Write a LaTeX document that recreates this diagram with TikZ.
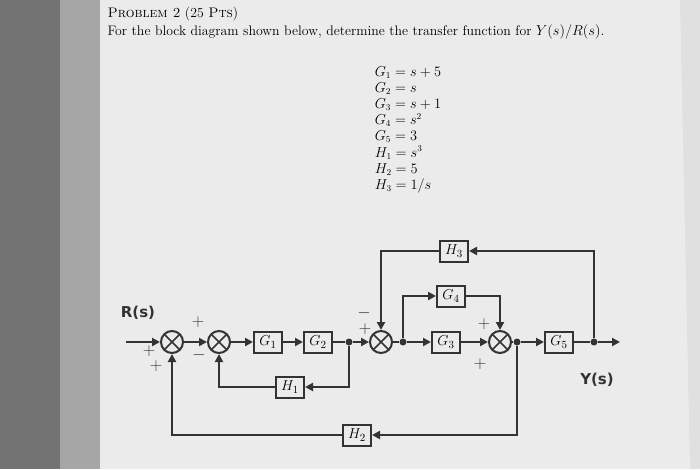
\documentclass[tikz,border=0pt]{standalone}
\usepackage{fontspec}
\setsansfont{DejaVu Sans}
\usetikzlibrary{arrows.meta}
\begin{document}
\begin{tikzpicture}[x=1pt,y=-1pt,
  blk/.style={draw=black!80,line width=2pt,fill=white!92!black,minimum width=28pt,minimum height=21pt,inner sep=1pt,font=\fontsize{15}{17}\selectfont},
  sumj/.style={draw=black!80,line width=2pt,circle,minimum size=22pt,inner sep=0pt,path picture={\draw[black!80,line width=1.6pt] (path picture bounding box.south west)--(path picture bounding box.north east) (path picture bounding box.north west)--(path picture bounding box.south east);}},
  sig/.style={draw=black!80,line width=2pt,-{Triangle[length=8pt,width=8pt]}},
  ln/.style={draw=black!80,line width=2pt},
  dot/.style={circle,fill=black!80,inner sep=0pt,minimum size=7pt},
  sg/.style={font=\fontsize{16}{16}\selectfont,text=black!80}]
\useasboundingbox (0,0) rectangle (700,469);
\fill[black!12] (0,0) rectangle (700,469);
\fill[black!55] (0,0) rectangle (60,469);
\fill[black!35] (60,0) rectangle (100,469);
\fill[black!8] (100,0) -- (680,0) -- (690,469) -- (100,469) -- cycle;
\node[anchor=west,font=\fontsize{13.8}{15}\selectfont] (t1) at (104,14) {\textsc{Problem 2} (25 \textsc{Pts})};
\node[anchor=west,font=\fontsize{13.8}{15}\selectfont] (t2) at (104,32) {For the block diagram shown below, determine the transfer function for $Y(s)/R(s)$.};
\node[anchor=north,font=\fontsize{13.5}{15}\selectfont] (eq) at (408,62) {$\begin{array}{l}
G_1=s+5\\[1pt] G_2=s\\[1pt] G_3=s+1\\[1pt] G_4=s^2\\[1pt] G_5=3\\[1pt] H_1=s^3\\[1pt] H_2=5\\[1pt] H_3=1/s\end{array}$};
% main row
\coordinate (in) at (126,342);
\node[sumj] (s1) at (172,342) {};
\node[sumj] (s2) at (219,342) {};
\node[blk] (g1) at (268,342) {$G_1$};
\node[blk] (g2) at (318,342) {$G_2$};
\node[dot] (b1) at (349,342) {};
\node[sumj] (s3) at (381,342) {};
\node[dot] (b2) at (403,342) {};
\node[blk] (g3) at (446,342) {$G_3$};
\node[blk] (g4) at (451,296) {$G_4$};
\node[sumj] (s4) at (500,342) {};
\node[dot] (b3) at (517,342) {};
\node[blk] (g5) at (559,342) {$G_5$};
\node[dot] (b4) at (594,342) {};
\coordinate (out) at (620,342);
\node[blk] (h1) at (290,387) {$H_1$};
\node[blk] (h2) at (357,435) {$H_2$};
\node[blk] (h3) at (454,251) {$H_3$};
\node[font=\sffamily\bfseries\fontsize{15}{17}\selectfont,text=black!80] (R) at (138,313) {R(s)};
\node[font=\sffamily\bfseries\fontsize{15}{17}\selectfont,text=black!80] (Y) at (597,380) {Y(s)};
\path[sig] (in)--(s1);
\path[sig] (s1)--(s2);
\path[sig] (s2)--(g1);
\path[sig] (g1)--(g2);
\path[ln] (g2)--(b1);
\path[sig] (b1)--(s3);
\path[ln] (s3)--(b2);
\path[sig] (b2)--(g3);
\path[sig] (b2)|-(g4);
\path[sig] (g4)-|(s4);
\path[sig] (g3)--(s4);
\path[ln] (s4)--(b3);
\path[sig] (b3)--(g5);
\path[ln] (g5)--(b4);
\path[sig] (b4)--(out);
\path[sig] (b1)|-(h1);
\path[sig] (h1)-|(s2);
\path[sig] (b3)|-(h2);
\path[sig] (h2)-|(s1);
\path[sig] (b4)|-(h3);
\path[sig] (h3)-|(s3);
% signs
\node[sg] (p1) at (149,351) {$+$};
\node[sg] (p2) at (156,366) {$+$};
\node[sg] (p3) at (198,322) {$+$};
\node[sg] (m1) at (199,355) {$-$};
\node[sg] (p4) at (365,329) {$+$};
\node[sg] (m2) at (364,313) {$-$};
\node[sg] (p5) at (484,324) {$+$};
\node[sg] (p6) at (480,364) {$+$};
\end{tikzpicture}
\end{document}
